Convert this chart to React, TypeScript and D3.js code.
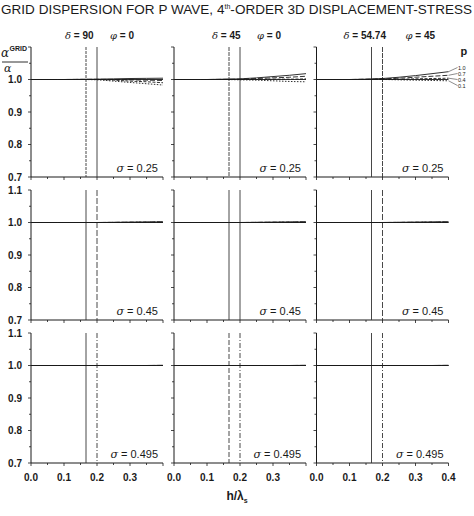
import React from "react";
import * as d3 from "d3";

const hValues = [0, 0.05, 0.1, 0.15, 0.2, 0.25, 0.3, 0.35, 0.4];
const pLabels = ["1.0", "0.7", "0.4", "0.1"];
const colHeaders = [
  { delta: "90", phi: "0" },
  { delta: "45", phi: "0" },
  { delta: "54.74", phi: "45" },
];
const sigmaLabels = ["0.25", "0.45", "0.495"];
const xTickLabels = ["0.0", "0.1", "0.2", "0.3", "0.4"];
const yTickValues = [0.7, 0.8, 0.9, 1.0, 1.1];
const refLines = [1 / 6, 0.2];

// row 1 (sigma = 0.25)
const r1c1 = [
  [1, 1, 1, 1.0005, 1.001, 1.002, 1.003, 1.0035, 1.004],
  [1, 1, 1, 1.0003, 1.0005, 1.0, 0.999, 0.998, 0.997],
  [1, 1, 1, 1.0001, 1.0, 0.998, 0.995, 0.993, 0.99],
  [1, 1, 1, 1.0, 0.999, 0.995, 0.991, 0.987, 0.983],
];
const r1c2 = [
  [1, 1, 1, 1.001, 1.002, 1.005, 1.009, 1.013, 1.018],
  [1, 1, 1, 1.0005, 1.001, 1.003, 1.005, 1.007, 1.01],
  [1, 1, 1, 1.0, 1.0, 1.0, 1.001, 1.001, 1.002],
  [1, 1, 1, 1.0, 0.999, 0.998, 0.996, 0.994, 0.993],
];
const r1c3 = [
  [1, 1, 1, 1.001, 1.003, 1.007, 1.012, 1.018, 1.024],
  [1, 1, 1, 1.001, 1.002, 1.004, 1.007, 1.01, 1.013],
  [1, 1, 1, 1.0, 1.001, 1.001, 1.002, 1.003, 1.004],
  [1, 1, 1, 1.0, 1.0, 0.999, 0.998, 0.997, 0.996],
];
// row 2 (sigma = 0.45)
const r2c1 = [
  [1, 1, 1, 1.0, 1.0, 1.0005, 1.001, 1.0015, 1.002],
  [1, 1, 1, 1.0, 1.0, 1.0003, 1.0008, 1.001, 1.0015],
  [1, 1, 1, 1.0, 1.0, 1.0002, 1.0005, 1.0008, 1.001],
  [1, 1, 1, 1.0, 1.0, 1.0, 1.0002, 1.0004, 1.0005],
];
const r2c2 = [
  [1, 1, 1, 1.0, 1.0, 1.0005, 1.001, 1.0015, 1.002],
  [1, 1, 1, 1.0, 1.0, 1.0003, 1.0008, 1.001, 1.0015],
  [1, 1, 1, 1.0, 1.0, 1.0002, 1.0005, 1.0008, 1.001],
  [1, 1, 1, 1.0, 1.0, 1.0, 1.0002, 1.0004, 1.0005],
];
const r2c3 = [
  [1, 1, 1, 1.0, 1.0, 1.0005, 1.001, 1.0015, 1.002],
  [1, 1, 1, 1.0, 1.0, 1.0003, 1.0008, 1.001, 1.0015],
  [1, 1, 1, 1.0, 1.0, 1.0002, 1.0005, 1.0008, 1.001],
  [1, 1, 1, 1.0, 1.0, 1.0, 1.0002, 1.0004, 1.0005],
];
// row 3 (sigma = 0.495)
const r3c1 = [
  [1, 1, 1, 1, 1, 1, 1, 1, 1.0005],
  [1, 1, 1, 1, 1, 1, 1, 1, 1.0003],
  [1, 1, 1, 1, 1, 1, 1, 1, 1.0001],
  [1, 1, 1, 1, 1, 1, 1, 1, 1.0],
];
const r3c2 = r3c1;
const r3c3 = r3c1;

const panels = [
  [r1c1, r1c2, r1c3],
  [r2c1, r2c2, r2c3],
  [r3c1, r3c2, r3c3],
];

const colX = [31, 174, 316.5];
const rowY = [47, 190, 333];
const PW = 132;
const PH = 130;
const FONT = "'Liberation Sans', Arial, sans-serif";
const INK = "#1a1a1a";

const x = d3.scaleLinear().domain([0, 0.4]).range([0, PW]);
const y = d3.scaleLinear().domain([0.7, 1.1]).range([PH, 0]);

const curveDash = ["", "5,2", "3,1.5", "1.5,1.5"];
// dash style of reference lines per panel [row][col][line]
const refDash = [
  [["3,1", ""], ["4,1", ""], ["", "5,1"]],
  [["", "6,2"], ["", ""], ["", "6,2"]],
  [["", "5,2,1,2"], ["5,2", "5,2,1,2"], ["", "5,2,1,2"]],
];

function Panel({ r, c }: { r: number; c: number }) {
  const ox = colX[c];
  const oy = rowY[r];
  const line = d3
    .line<number>()
    .x((_, i) => x(hValues[i]))
    .y((v) => y(v))
    .curve(d3.curveMonotoneX);
  const series = panels[r][c];
  const minorY = d3.range(0.7, 1.1001, 0.05);
  const minorX = d3.range(0, 0.4001, 0.05);
  return (
    <g transform={`translate(${ox},${oy})`}>
      <line x1={0} x2={0} y1={0} y2={PH} stroke={INK} strokeWidth={1} />
      <line x1={0} x2={PW} y1={PH} y2={PH} stroke={INK} strokeWidth={1} />
      {minorY.map((v, i) => (
        <line key={"yt" + i} x1={i % 2 === 0 ? -3 : -2} x2={0} y1={y(v)} y2={y(v)} stroke={INK} strokeWidth={0.8} />
      ))}
      {minorX.map((v, i) => (
        <line key={"xt" + i} x1={x(v)} x2={x(v)} y1={PH} y2={PH + (i % 2 === 0 ? 3 : 2)} stroke={INK} strokeWidth={0.8} />
      ))}
      {refLines.map((h, i) => (
        <line
          key={"ref" + i}
          x1={x(h)}
          x2={x(h)}
          y1={0}
          y2={PH}
          stroke="#333"
          strokeWidth={0.9}
          strokeDasharray={refDash[r][c][i] || undefined}
        />
      ))}
      <line x1={0} x2={PW} y1={y(1.0)} y2={y(1.0)} stroke={INK} strokeWidth={0.9} />
      {series.map((s, i) => (
        <path
          key={"s" + i}
          d={line(s) || ""}
          fill="none"
          stroke={INK}
          strokeWidth={0.9}
          strokeDasharray={curveDash[i] || undefined}
        />
      ))}
      {c === 0 &&
        yTickValues
          .filter((v) => !(r === 0 && v > 1.05))
          .map((v) => (
            <text
              key={"yl" + v}
              x={-9}
              y={y(v) + 3.5}
              textAnchor="end"
              fontFamily={FONT}
              fontSize={10}
              fontWeight="bold"
              fill={INK}
            >
              {v.toFixed(1)}
            </text>
          ))}
      <text x={PW - 5} y={PH - 5} textAnchor="end" fontFamily={FONT} fontSize={11} fill={INK}>
        <tspan fontFamily="'DejaVu Serif', serif" fontStyle="italic">σ</tspan>
        <tspan> = {sigmaLabels[r]}</tspan>
      </text>
      {r === 2 &&
        xTickLabels
          .filter((_, i) => c === 2 || i < 4)
          .map((t, i) => (
            <text
              key={"xl" + i}
              x={x(i * 0.1)}
              y={PH + 18}
              textAnchor="middle"
              fontFamily={FONT}
              fontSize={10}
              fontWeight="bold"
              fill={INK}
            >
              {t}
            </text>
          ))}
      {r === 0 && c === 2 && (
        <g>
          <text x={PW + 12} y={8} fontFamily={FONT} fontSize={11} fontWeight="bold" fill={INK}>
            p
          </text>
          {pLabels.map((p, i) => {
            const endY = y(series[i][series[i].length - 1]);
            const ly = 20.5 + i * 6;
            return (
              <g key={"lg" + i}>
                <line x1={PW} y1={endY} x2={PW + 9} y2={ly} stroke={INK} strokeWidth={0.5} />
                <text x={PW + 9.5} y={ly + 2} fontFamily={FONT} fontSize={5.5} fill={INK}>
                  {p}
                </text>
              </g>
            );
          })}
        </g>
      )}
    </g>
  );
}

export default function App() {
  const offs = [
    [34, 79],
    [38, 83],
    [27, 89],
  ];
  return (
    <div style={{ position: "absolute", left: 0, top: 0 }}>
      <svg width={474} height={516} style={{ display: "block", background: "#fff" }}>
        <text
          x={1}
          y={14}
          fontFamily={FONT}
          fontSize={13.5}
          fill={INK}
          textLength={471}
          lengthAdjust="spacing"
        >
          GRID DISPERSION FOR P WAVE, 4<tspan dy={-5} fontSize={7}>th</tspan>
          <tspan dy={5}>-ORDER 3D DISPLACEMENT-STRESS</tspan>
        </text>
        {colHeaders.map((h, c) => (
          <g key={"h" + c}>
            <text x={colX[c] + offs[c][0]} y={39} fontFamily={FONT} fontSize={10} fontWeight="bold" fill={INK}>
              <tspan fontFamily="'DejaVu Serif', serif" fontStyle="italic" fontWeight="normal">δ</tspan>
              <tspan> = {h.delta}</tspan>
            </text>
            <text x={colX[c] + offs[c][1]} y={39} fontFamily={FONT} fontSize={10} fontWeight="bold" fill={INK}>
              <tspan fontFamily="'DejaVu Serif', serif" fontStyle="italic" fontWeight="normal">φ</tspan>
              <tspan> = {h.phi}</tspan>
            </text>
          </g>
        ))}
        <text x={1} y={57} fontFamily="'DejaVu Serif', serif" fontStyle="italic" fontSize={12} fill={INK}>
          α
        </text>
        <text x={9.5} y={51} fontFamily={FONT} fontSize={7} fontWeight="bold" fill={INK}>
          GRID
        </text>
        <line x1={2} x2={28} y1={62} y2={62} stroke={INK} strokeWidth={0.9} />
        <text x={4} y={72} fontFamily="'DejaVu Serif', serif" fontStyle="italic" fontSize={11} fill={INK}>
          α
        </text>
        {[0, 1, 2].map((r) => [0, 1, 2].map((c) => <Panel key={`${r}-${c}`} r={r} c={c} />))}
        <text x={237} y={500} textAnchor="middle" fontFamily={FONT} fontSize={12} fontWeight="bold" fill={INK}>
          h/λ<tspan dy={3} fontSize={7}>s</tspan>
        </text>
      </svg>
    </div>
  );
}
